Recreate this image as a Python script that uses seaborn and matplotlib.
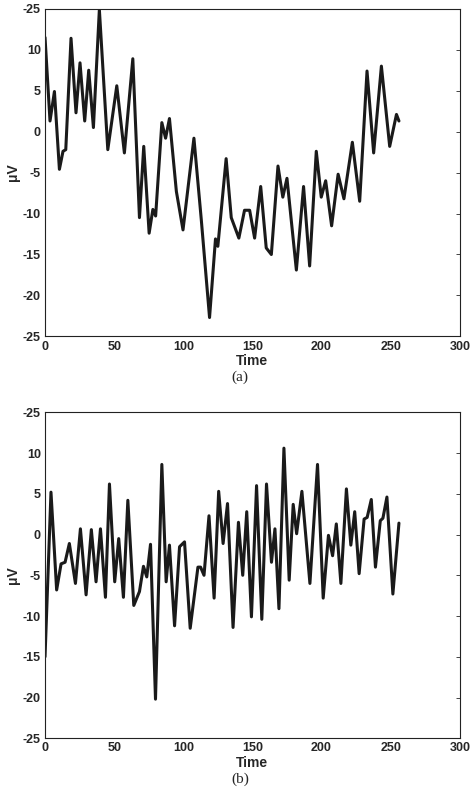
import matplotlib
matplotlib.use("Agg")
import matplotlib.pyplot as plt
import seaborn as sns
import pandas as pd

sns.set_theme(style="white")
plt.rcParams['font.family'] = ['Liberation Sans', 'DejaVu Sans']

# Panel (a) key points (time, microvolts)
a_time = [0, 3.6, 6.8, 10.4, 13, 15, 18.8, 22.4, 25.3, 28.7, 31.6, 35, 39.3, 45.4, 51.9, 57.4, 63.5,
          68.3, 71.4, 75.3, 78, 80, 84.5, 87.2, 90, 95, 99.8, 107.7, 113, 119, 123.3, 125, 131, 134.7,
          140.2, 144.3, 148, 151.6, 156, 160, 163.7, 168.5, 172, 175, 181.8, 187, 191.4, 196.2, 199.8,
          203, 207.3, 212, 216.2, 222.3, 227.6, 232.9, 237.7, 243.3, 249.3, 254.2, 256]
a_uv = [11.5, 1.3, 4.9, -4.6, -2.4, -2.2, 11.4, 2.3, 8.4, 1.3, 7.5, 0.5, 14.9, -2.2, 5.6, -2.6, 8.9,
        -10.5, -1.8, -12.4, -9.5, -10.3, 1.1, -0.8, 1.6, -7.3, -12, -0.8, -10.7, -22.7, -13.1, -14, -3.3, -10.5,
        -13, -9.6, -9.6, -13, -6.7, -14.2, -15, -4.2, -8, -5.7, -16.9, -6.7, -16.4, -2.4, -8,
        -6, -11.5, -5.2, -8.2, -1.3, -8.5, 7.4, -2.6, 8, -1.8, 2.1, 1.3]

# Panel (b)
b_time = [0, 4.3, 8.4, 11.6, 14.5, 17.6, 22, 25.6, 29.7, 33.5, 36.9, 40.1, 43.7, 46.6, 50.4, 53.3, 56.7,
          59.9, 64.2, 68.3, 71.2, 73.6, 76.3, 79.9, 84.5, 87.6, 90, 93.7, 97.3, 100.9, 105, 110.6, 112.5,
          115, 118.6, 122.3, 125.6, 128.8, 132, 136, 139.9, 143, 145.9, 149.3, 153, 156.8, 160.2, 163.8,
          166.3, 169.2, 172.8, 176.6, 179.5, 182, 185.8, 191.6, 197.1, 201.2, 205, 208, 210.7, 214, 218,
          221.2, 224, 227.2, 230.8, 233, 236, 239, 242.5, 244.4, 247.3, 251.6, 256]
b_uv = [-15, 5.2, -6.8, -3.6, -3.4, -1.1, -6, 0.7, -7.4, 0.6, -5.8, 0.7, -7.7, 6.2, -5.8, -0.5, -7.7,
        4.2, -8.7, -7, -3.9, -5.2, -1.2, -20.2, 8.6, -5.8, -1.3, -11.2, -1.5, -0.9, -11.5, -4, -4,
        -5, 2.3, -7.8, 5.3, -1.1, 3.8, -11.4, 1.5, -5, 2.8, -10.1, 6, -10.4, 6.2, -3.4,
        0.7, -9.1, 10.6, -5.6, 3.7, 0.1, 5.3, -6, 8.6, -7.8, -0.1, -2.6, 1.3, -6, 5.6,
        -1.3, 2.8, -4.8, 1.9, 2.1, 4.3, -4, 1.7, 2, 4.6, -7.3, 1.4]

y_ticks = [-25, -20, -15, -10, -5, 0, 5, 10, 15]
y_labels = ["-25", "-20", "-15", "-10", "-5", "0", "5", "10", "-25"]
x_ticks = [0, 50, 100, 150, 200, 250, 300]

fig = plt.figure(figsize=(4.74, 7.99), dpi=100)
axes = [fig.add_axes([0.095, 0.579, 0.875, 0.41]), fig.add_axes([0.095, 0.076, 0.875, 0.408])]
data = [(a_time, a_uv, "(a)"), (b_time, b_uv, "(b)")]
for ax, (t, v, cap) in zip(axes, data):
    df = pd.DataFrame({"Time": t, "uV": v})
    sns.lineplot(data=df, x="Time", y="uV", ax=ax, color="#1a1a1a", linewidth=2.2)
    ax.set_xlim(0, 300)
    ax.set_ylim(-25, 15)
    ax.set_yticks(y_ticks)
    ax.set_yticklabels(y_labels)
    ax.set_xticks(x_ticks)
    ax.tick_params(direction="in", length=3, labelsize=9, top=False, right=True, pad=3, width=0.6)
    for lab in ax.get_xticklabels() + ax.get_yticklabels():
        lab.set_fontweight("bold")
    for s in ax.spines.values():
        s.set_color("#222222")
        s.set_linewidth(0.8)
    ax.set_xlabel("Time", fontweight="bold", fontsize=10, labelpad=1)
    ax.set_ylabel("\u03bcV", fontweight="bold", fontsize=10, labelpad=2)
    ax.text(0.47, -0.125, cap, transform=ax.transAxes, ha="center", va="center",
            family="Liberation Serif", fontsize=11)
fig.savefig("out.png", dpi=100)
